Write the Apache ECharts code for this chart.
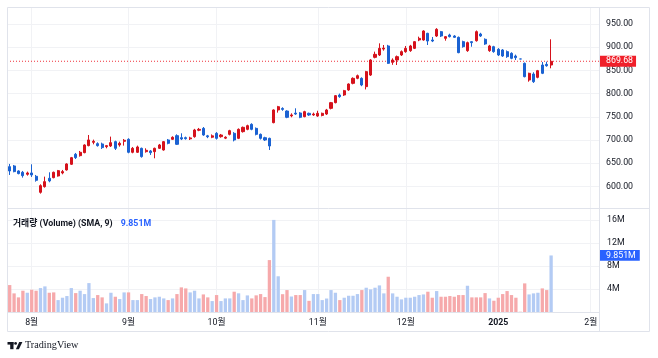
<!DOCTYPE html>
<html><head><meta charset="utf-8">
<script src="https://cdn.jsdelivr.net/npm/echarts@6/dist/echarts.min.js"></script>
<style>html,body{margin:0;padding:0;background:#fff;}#c{width:658px;height:358px;}</style>
</head><body><div id="c"></div>
<script>
// ---- data (one entry per trading day) ----
const openP = [642.6,644.1,633.3,630.4,626.1,629.0,621.8,587.3,599.5,617.5,618.9,622.5,629.0,635.5,647.7,669.2,666.3,672.8,687.9,695.0,692.2,691.5,685.7,687.1,696.5,689.3,697.2,701.5,673.5,673.5,682.1,674.9,676.4,674.9,682.1,678.5,700.1,701.5,709.4,705.1,705.1,702.5,707.2,721.0,725.1,709.0,706.0,714.4,707.2,704.0,712.2,714.4,703.6,718.0,723.0,733.8,725.1,712.2,705.0,703.6,737.4,764.7,768.0,762.5,752.0,758.0,758.2,750.3,757.5,754.0,751.7,753.0,756.0,768.2,780.5,797.0,797.0,807.8,822.1,832.9,832.9,815.0,840.0,878.1,883.2,896.0,902.6,867.4,872.4,883.2,890.4,892.5,897.5,915.5,915.5,929.9,915.5,924.1,933.5,919.1,926.3,924.1,921.2,911.9,892.5,911.9,914.0,928.4,917.0,892.5,901.1,895.4,894.0,890.4,886.8,881.0,874.6,865.2,829.3,842.2,835.0,861.6,863.0,861.6];
const closeP = [633.3,631.9,627.6,623.2,629.0,624.7,613.2,601.7,610.3,611.8,630.4,634.0,631.9,648.4,662.0,662.0,673.5,689.3,700.1,697.2,687.9,683.6,687.9,694.3,682.1,692.9,699.4,673.5,682.1,685.0,664.2,677.8,672.8,682.1,689.3,696.5,692.9,705.8,690.7,702.2,702.9,704.5,721.6,723.0,710.8,707.0,709.0,703.6,710.8,706.0,720.1,700.0,723.0,727.3,730.9,723.0,712.2,703.6,700.0,687.1,764.7,771.8,766.0,748.9,754.0,756.0,748.9,761.1,753.9,756.0,757.5,757.5,764.7,780.5,795.6,793.4,806.3,820.7,832.9,838.6,818.5,847.3,872.4,884.6,897.5,898.0,865.2,872.4,879.6,890.4,897.5,902.6,911.9,919.0,934.9,913.3,913.3,938.5,924.1,922.7,922.7,921.2,888.2,901.1,909.8,909.8,933.5,924.1,906.9,902.6,890.4,883.2,881.0,879.6,876.0,877.4,874.6,836.5,843.7,825.7,849.4,843.7,860.0,869.68];
const lowP = [624.7,630.4,626.1,618.9,623.2,620.4,610.3,584.5,597.4,608.9,617.5,621.1,626.1,634.0,646.2,659.1,664.2,671.4,686.4,690.7,685.7,680.7,682.1,685.0,678.5,685.7,687.9,671.4,671.4,672.1,662.0,672.8,667.8,660.6,680.7,677.1,690.7,700.1,689.3,699.9,700.8,700.0,705.0,719.0,709.0,704.0,704.0,701.0,705.0,702.0,710.0,697.0,702.0,716.0,721.0,721.0,710.0,701.0,698.0,678.5,736.0,759.0,763.0,747.0,749.0,754.0,747.0,749.0,752.0,752.0,750.0,751.0,754.0,766.0,779.0,791.0,795.0,806.0,820.0,831.0,816.0,809.0,838.0,876.0,881.0,892.5,864.0,862.0,861.6,881.0,888.0,890.0,896.0,913.0,914.0,904.7,911.0,922.0,922.0,914.0,921.0,920.0,887.0,899.0,890.0,901.0,912.0,922.0,905.0,890.0,888.0,881.0,879.0,877.0,874.0,872.4,874.6,835.0,825.7,823.0,833.0,842.0,858.0,854.5];
const highP = [648.4,646.2,634.7,633.3,631.9,647.7,624.7,604.6,621.1,630.4,631.9,635.5,635.5,649.8,663.5,672.1,676.4,690.7,710.8,700.8,695.0,694.3,689.3,707.3,698.6,696.5,702.2,703.7,685.0,687.9,683.6,682.1,678.5,683.6,691.5,697.9,702.2,708.0,712.3,714.4,707.3,707.0,724.0,726.0,728.0,711.0,712.0,717.0,713.0,708.0,722.0,717.0,725.0,729.0,733.0,736.0,727.0,714.0,707.0,705.0,766.0,773.5,770.5,764.0,757.5,768.3,760.0,763.0,759.0,759.0,763.0,759.0,767.0,782.0,797.0,800.0,808.0,822.0,835.0,841.0,835.0,849.0,874.0,890.4,908.3,904.7,905.0,876.0,882.0,893.0,902.6,905.0,913.0,922.7,936.5,931.0,922.0,941.0,935.0,924.0,929.0,926.0,923.0,914.0,912.0,913.0,936.0,931.0,919.0,905.0,903.0,898.0,896.0,893.0,889.0,884.0,874.6,867.0,845.0,846.0,851.0,868.0,868.8,917.0];
// volume in millions
const volume = [4.73,3.29,2.60,3.75,3.40,3.92,3.75,4.21,4.50,3.40,3.46,2.13,2.54,2.83,4.21,3.34,3.75,3.17,5.07,2.48,3.00,2.60,1.56,3.40,2.71,2.31,3.46,3.46,2.13,2.13,3.17,2.83,2.31,2.60,2.71,2.42,2.13,2.42,3.17,4.33,4.15,3.46,3.75,2.42,3.11,2.60,1.96,3.00,1.96,2.42,2.42,3.58,3.30,2.13,2.94,2.42,2.95,3.17,2.65,9.05,16.0,6.25,3.15,3.86,2.75,3.00,3.00,3.86,2.00,3.17,3.17,2.13,2.40,3.86,3.40,2.13,2.54,2.88,2.88,3.17,3.86,4.27,3.98,4.27,4.67,3.29,6.17,3.29,2.71,2.25,2.54,2.54,2.71,3.00,3.11,3.58,2.54,3.69,2.71,2.71,2.83,2.71,3.00,3.00,4.61,2.60,2.60,2.60,3.34,2.42,2.02,2.54,3.17,3.69,3.00,2.54,0.12,5.02,3.11,3.29,3.40,4.15,3.86,9.851];
// volume bar colour as seen: b = blue, r = red
const volDir = "rrrrbrrbbrrbbbbrbbbbrrbb" + "rbbrbbrrbbbbrbrrrbbbrrbrb" + "bbrbbbrrrrrbbrrbrrbrbbbbb" + "brbbbbrbbbbbrbbbbbbbbrrbrrrrrrbrrrrbrrrrrrrrbbbrrb";
const tickIndex = [5, 27, 47, 70, 90, 111, 132];
const tickLabel = ['8월', '9월', '10월', '11월', '12월', '2025', '2월'];
const priceTicks = [600, 650, 700, 750, 800, 850, 900, 950];
const volTicks = [4, 8, 12, 16];
const lastPrice = 869.68;
const lastVolume = 9.851;

// ---- styles ----
const UP = '#d5121c', DOWN = '#1b62d2', VUP = '#b3cbf4', VDOWN = '#f6a9ab';
const GRID = '#f1f2f5', BORDER = '#e0e3eb', TXT = '#131722';
const PRICE_LINE = '#f0303a';
const FONT = "Roboto, 'Noto Sans CJK KR', sans-serif";
const FS = 8.8;

const candles = openP.map((o, i) => [i, o, closeP[i], lowP[i], highP[i]]);
const vols = volume.map((v, i) => ({ value: [i, v], itemStyle: { color: volDir[i] === 'b' ? VUP : VDOWN } }));

const xMin = -0.611, xMax = 133.88;

function xAxisCfg(gi, showLabel) {
  return {
    type: 'value', gridIndex: gi, min: xMin, max: xMax,
    axisLine: { show: false },
    axisTick: { show: false, customValues: tickIndex },
    axisLabel: {
      show: showLabel, customValues: tickIndex, margin: 6,
      color: TXT, fontSize: FS, fontFamily: FONT,
      formatter: v => { const t = tickLabel[tickIndex.indexOf(v)]; return t === '2025' ? '{b|2025}' : t; },
      rich: { b: { fontWeight: 'bold', fontSize: FS, fontFamily: FONT, color: TXT } }
    },
    splitLine: { show: true, lineStyle: { color: GRID, width: 1 } }
  };
}

const chart = echarts.init(document.getElementById('c'), null, { renderer: 'canvas' });
chart.setOption({
  animation: false,
  backgroundColor: '#ffffff',
  title: {
    left: 13, top: 215, padding: 0,
    text: '{a|거래량 (Volume) (SMA, 9)} {b|' + lastVolume.toFixed(3) + 'M}',
    textStyle: { rich: {
      a: { color: TXT, fontSize: FS, fontFamily: FONT },
      b: { color: '#2962ff', fontSize: FS, fontFamily: FONT, padding: [0, 0, 0, 3] }
    } }
  },
  grid: [
    { left: 7, right: 59, top: 7, height: 201 },
    { left: 7, right: 59, top: 208, height: 104.4 }
  ],
  xAxis: [xAxisCfg(0, false), xAxisCfg(1, true)],
  yAxis: [
    {
      type: 'value', gridIndex: 0, min: 553.5, max: 986.6, position: 'right',
      axisLine: { show: false }, axisTick: { show: false, customValues: priceTicks },
      axisLabel: { customValues: priceTicks, formatter: v => v.toFixed(2), color: TXT, fontSize: FS, fontFamily: FONT, margin: 7 },
      splitLine: { show: true, lineStyle: { color: GRID } }
    },
    {
      type: 'value', gridIndex: 1, min: 0, max: 18.06, position: 'right',
      axisLine: { show: false }, axisTick: { show: false, customValues: volTicks },
      axisLabel: { customValues: volTicks, formatter: v => v + 'M', color: TXT, fontSize: FS, fontFamily: FONT, margin: 8 },
      splitLine: { show: true, lineStyle: { color: GRID } }
    }
  ],
  series: [
    {
      // current price line (drawn under the candles)
      type: 'line', xAxisIndex: 0, yAxisIndex: 0, z: 1,
      data: [[xMin, lastPrice], [xMax, lastPrice]],
      symbol: 'none', silent: true,
      lineStyle: { color: PRICE_LINE, width: 1, type: [1, 2] },
      itemStyle: { color: PRICE_LINE }
    },
    {
      type: 'candlestick', xAxisIndex: 0, yAxisIndex: 0, data: candles, z: 3,
      encode: { x: 0, y: [1, 2, 3, 4] },
      barWidth: 2.6,
      itemStyle: { color: UP, color0: DOWN, borderColor: UP, borderColor0: DOWN, borderWidth: 1 },
      markLine: {
        silent: true, symbol: ['none', 'none'], animation: false,
        data: [{ yAxis: lastPrice }],
        lineStyle: { color: 'rgba(0,0,0,0)', width: 1 },
        label: {
          show: true, position: 'end', distance: 0,
          formatter: () => lastPrice.toFixed(2),
          backgroundColor: '#f0202a', color: '#ffffff', padding: [1, 3, 1, 7],
          fontSize: FS, fontFamily: FONT
        },
        emphasis: { disabled: true }
      }
    },
    {
      type: 'bar', xAxisIndex: 1, yAxisIndex: 1, data: vols, barWidth: 3.3,
      markLine: {
        silent: true, symbol: ['none', 'none'], animation: false,
        data: [{ yAxis: lastVolume }],
        lineStyle: { color: 'rgba(0,0,0,0)', width: 1 },
        label: {
          show: true, position: 'end', distance: 0,
          formatter: () => lastVolume.toFixed(3) + 'M',
          backgroundColor: '#2962ff', color: '#ffffff', padding: [1, 4, 1, 7],
          fontSize: FS, fontFamily: FONT
        },
        emphasis: { disabled: true }
      }
    }
  ],
  graphic: [
    { type: 'rect', silent: true, z: 10, shape: { x: 7.5, y: 7.5, width: 642, height: 324 }, style: { fill: 'none', stroke: BORDER, lineWidth: 1 } },
    { type: 'line', silent: true, z: 10, shape: { x1: 7, y1: 208.5, x2: 650, y2: 208.5 }, style: { stroke: BORDER, lineWidth: 1 } },
    { type: 'line', silent: true, z: 10, shape: { x1: 7, y1: 312.5, x2: 599, y2: 312.5 }, style: { stroke: BORDER, lineWidth: 1 } },
    { type: 'line', silent: true, z: 10, shape: { x1: 599.5, y1: 7, x2: 599.5, y2: 332 }, style: { stroke: BORDER, lineWidth: 1 } },
    // TradingView mark
    { type: 'rect', silent: true, shape: { x: 7.5, y: 342, width: 6, height: 2.6 }, style: { fill: TXT } },
    { type: 'rect', silent: true, shape: { x: 10.2, y: 342, width: 3.3, height: 7.2 }, style: { fill: TXT } },
    { type: 'circle', silent: true, shape: { cx: 15.6, cy: 343.4, r: 1.4 }, style: { fill: TXT } },
    { type: 'polygon', silent: true, shape: { points: [[19.2, 342], [22.4, 342], [18.9, 349.2], [15.9, 349.2]] }, style: { fill: TXT } },
    { type: 'text', silent: true, style: { x: 25, y: 345.6, text: 'TradingView', fill: TXT, fontSize: 10.2, fontFamily: "'Liberation Serif', serif", verticalAlign: 'middle', align: 'left' } }
  ]
});
</script>
</body></html>
